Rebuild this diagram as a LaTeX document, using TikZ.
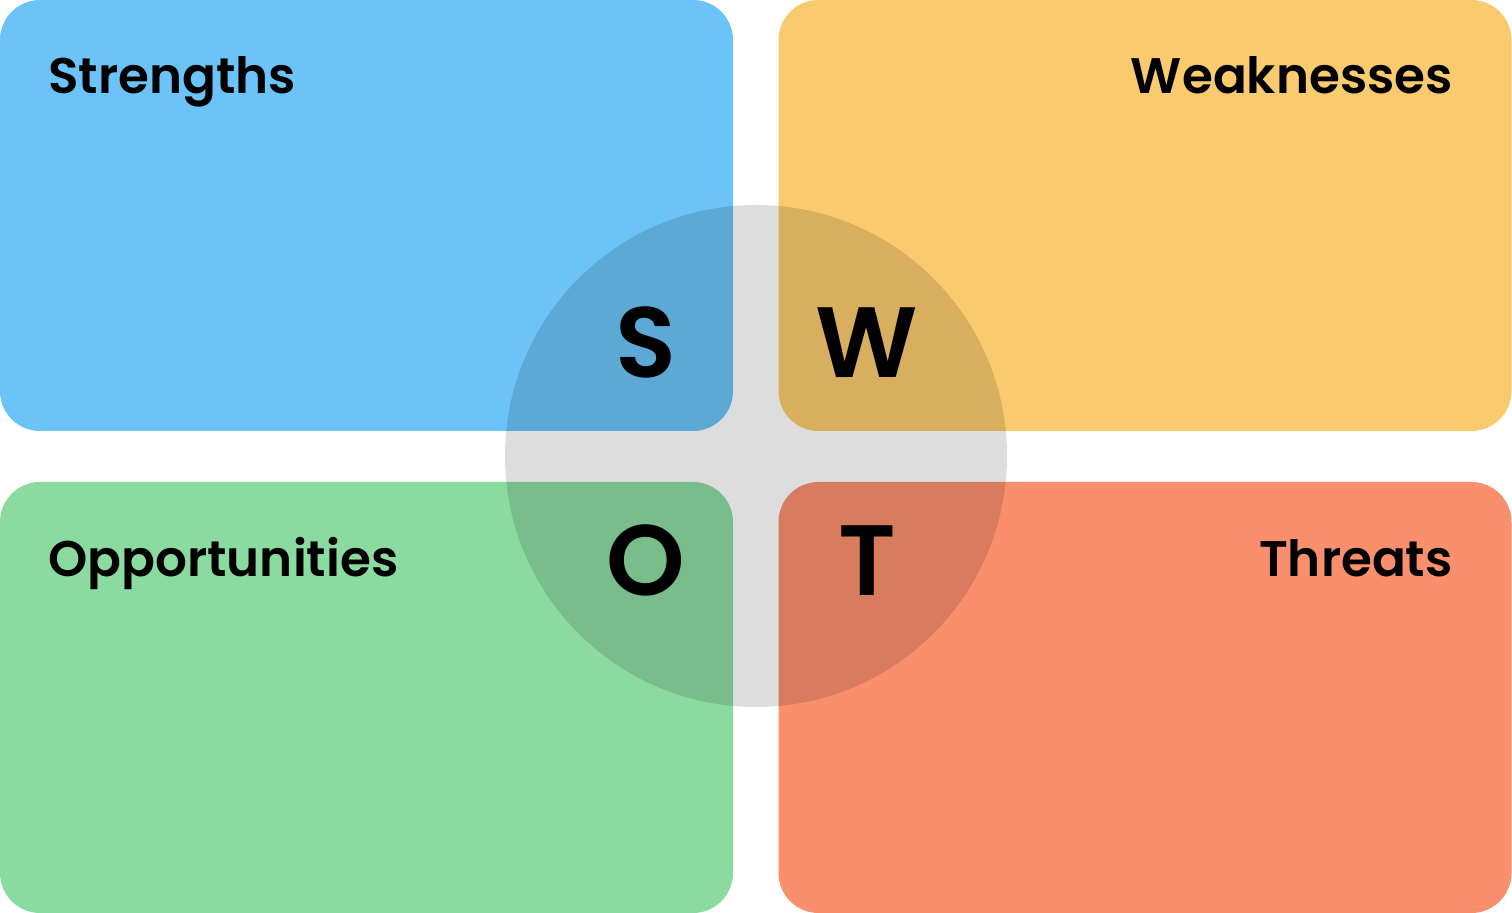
\documentclass[tikz,border=0pt]{standalone}
\usepackage{fontspec}
\setmainfont{Poppins}[BoldFont={* SemiBold}]
\usetikzlibrary{positioning}
\definecolor{sblue}{HTML}{6CC3F7}
\definecolor{worange}{HTML}{F9CA6E}
\definecolor{ogreen}{HTML}{8BDBA1}
\definecolor{tred}{HTML}{FA8F6D}
\tikzset{
  quad/.style={rectangle,rounded corners=20pt,inner sep=0pt,minimum width=366.5pt,minimum height=215.5pt},
  title/.style={font=\bfseries\fontsize{25}{30}\selectfont,inner sep=0pt},
  letter/.style={font=\bfseries\fontsize{50}{60}\selectfont,inner sep=0pt}
}
\begin{document}
\begin{tikzpicture}[x=0.5pt,y=-0.5pt]
  \useasboundingbox (0,0) rectangle (1512,913);
  \node[quad,fill=sblue] (S) at (366.5,215.5) {};
  \node[quad,fill=worange] (W) at (1145,215.5) {};
  \node[quad,fill=ogreen] (O) at (366.5,697.5) {};
  \node[quad,fill=tred] (T) at (1145,697.5) {};
  \fill[black,fill opacity=0.135] (756,456) circle[radius=251];
  \node[title,anchor=base west] (Slabel) at (48,94) {Strengths};
  \node[title,anchor=base east] (Wlabel) at (1453,94) {Weaknesses};
  \node[title,anchor=base west] (Olabel) at (48,577) {Opportunities};
  \node[title,anchor=base east] (Tlabel) at (1453,577) {Threats};
  \node[letter,anchor=base] (Sletter) at (646,378) {S};
  \node[letter,anchor=base] (Wletter) at (867,378) {W};
  \node[letter,anchor=base] (Oletter) at (646,596) {O};
  \node[letter,anchor=base] (Tletter) at (867,596) {T};
\end{tikzpicture}
\end{document}
